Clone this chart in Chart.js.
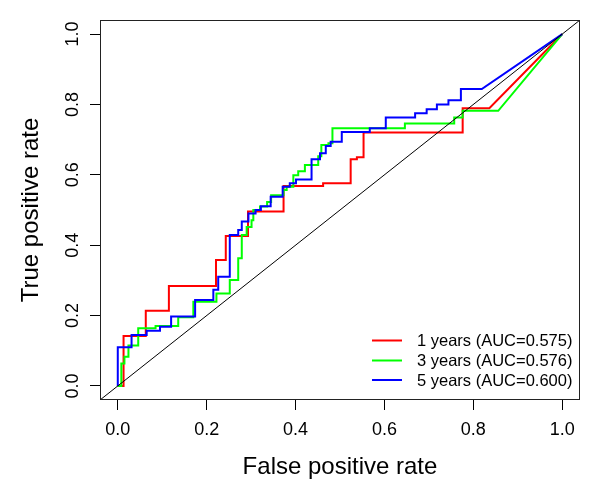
<!DOCTYPE html>
<html>
<head>
<meta charset="utf-8">
<script src="https://cdn.jsdelivr.net/npm/chart.js@4"></script>
<style>
  html, body { margin: 0; padding: 0; background: #fff; }
  canvas { display: block; }
</style>
</head>
<body>
<canvas id="c" width="600" height="500"></canvas>
<script>
// ---- data ----
const seriesLabels = ['1 years (AUC=0.575)', '3 years (AUC=0.576)', '5 years (AUC=0.600)'];
const seriesColors = ['#FF0000', '#00FF00', '#0000FF'];

const fpr1 = [0, 0.013, 0.013, 0.063, 0.063, 0.115, 0.115, 0.221, 0.221, 0.243, 0.243, 0.293, 0.293, 0.373, 0.373, 0.462, 0.462, 0.524, 0.524, 0.538, 0.538, 0.553, 0.553, 0.776, 0.776, 0.836, 1];
const tpr1 = [0, 0, 0.142, 0.142, 0.214, 0.214, 0.284, 0.284, 0.358, 0.358, 0.426, 0.426, 0.496, 0.496, 0.568, 0.568, 0.576, 0.576, 0.644, 0.644, 0.65, 0.65, 0.72, 0.72, 0.789, 0.789, 1];

const fpr3 = [0, 0.008, 0.008, 0.015, 0.015, 0.024, 0.024, 0.046, 0.046, 0.085, 0.085, 0.136, 0.136, 0.17, 0.17, 0.222, 0.222, 0.252, 0.252, 0.271, 0.271, 0.279, 0.279, 0.29, 0.29, 0.301, 0.301, 0.305, 0.305, 0.32, 0.32, 0.336, 0.336, 0.345, 0.345, 0.373, 0.373, 0.38, 0.38, 0.395, 0.395, 0.406, 0.406, 0.421, 0.421, 0.451, 0.451, 0.458, 0.458, 0.474, 0.474, 0.483, 0.483, 0.646, 0.646, 0.757, 0.757, 0.776, 0.776, 0.856, 1];
const tpr3 = [0, 0, 0.064, 0.064, 0.083, 0.083, 0.115, 0.115, 0.164, 0.164, 0.17, 0.17, 0.195, 0.195, 0.239, 0.239, 0.263, 0.263, 0.301, 0.301, 0.363, 0.363, 0.429, 0.429, 0.452, 0.452, 0.471, 0.471, 0.5, 0.5, 0.51, 0.51, 0.523, 0.523, 0.542, 0.542, 0.557, 0.557, 0.566, 0.566, 0.599, 0.599, 0.61, 0.61, 0.628, 0.628, 0.653, 0.653, 0.685, 0.685, 0.69, 0.69, 0.732, 0.732, 0.746, 0.746, 0.763, 0.763, 0.782, 0.782, 1];

const fpr5 = [0, 0, 0.031, 0.031, 0.065, 0.065, 0.095, 0.095, 0.12, 0.12, 0.174, 0.174, 0.215, 0.215, 0.226, 0.226, 0.252, 0.252, 0.271, 0.271, 0.279, 0.279, 0.294, 0.294, 0.31, 0.31, 0.322, 0.322, 0.344, 0.344, 0.371, 0.371, 0.387, 0.387, 0.401, 0.401, 0.436, 0.436, 0.455, 0.455, 0.468, 0.468, 0.479, 0.479, 0.504, 0.504, 0.567, 0.567, 0.603, 0.603, 0.669, 0.669, 0.695, 0.695, 0.718, 0.718, 0.744, 0.744, 0.772, 0.772, 0.819, 1];
const tpr5 = [0, 0.11, 0.11, 0.145, 0.145, 0.157, 0.157, 0.168, 0.168, 0.197, 0.197, 0.244, 0.244, 0.273, 0.273, 0.31, 0.31, 0.429, 0.429, 0.443, 0.443, 0.467, 0.467, 0.49, 0.49, 0.5, 0.5, 0.511, 0.511, 0.538, 0.538, 0.566, 0.566, 0.576, 0.576, 0.587, 0.587, 0.644, 0.644, 0.661, 0.661, 0.682, 0.682, 0.694, 0.694, 0.722, 0.722, 0.732, 0.732, 0.763, 0.763, 0.775, 0.775, 0.786, 0.786, 0.8, 0.8, 0.812, 0.812, 0.844, 0.844, 1];

const diagX = [-0.04, 1.04];
const diagY = [-0.04, 1.04];

const xTickValues = [0, 0.2, 0.4, 0.6, 0.8, 1.0];
const yTickValues = [0, 0.2, 0.4, 0.6, 0.8, 1.0];
const axisMin = -0.04, axisMax = 1.04;
const xTitle = 'False positive rate';
const yTitle = 'True positive rate';

// ---- chart ----
const FONT = '"Liberation Sans", Arial, Helvetica, sans-serif';
const toPts = (xs, ys) => xs.map((x, i) => ({x: x, y: ys[i]}));

const curves = [[fpr1, tpr1], [fpr3, tpr3], [fpr5, tpr5]];
const datasets = curves.map((c, i) => ({
  label: seriesLabels[i],
  data: toPts(c[0], c[1]),
  borderColor: seriesColors[i],
  borderWidth: 2,
  pointRadius: 0,
  showLine: true,
  fill: false,
  tension: 0,
  order: 3 - i
}));
datasets.push({
  label: 'diag',
  data: toPts(diagX, diagY),
  borderColor: '#000',
  borderWidth: 1,
  pointRadius: 0,
  showLine: true,
  fill: false,
  order: 0
});

const boxPlugin = {
  id: 'box',
  afterDraw(chart) {
    const {ctx, chartArea: a} = chart;
    ctx.save();
    ctx.strokeStyle = '#222';
    ctx.lineWidth = 1;
    ctx.strokeRect(a.left + 0.5, a.top + 0.5, a.right - a.left - 1, a.bottom - a.top - 1);
    // legend (no box)
    ctx.font = '16.5px ' + FONT;
    ctx.textBaseline = 'middle';
    ctx.textAlign = 'left';
    const rows = [a.bottom - 59.5, a.bottom - 39.5, a.bottom - 20];
    seriesLabels.forEach((lab, i) => {
      const y = rows[i];
      ctx.strokeStyle = seriesColors[i];
      ctx.lineWidth = 2;
      ctx.beginPath();
      ctx.moveTo(a.right - 208, y);
      ctx.lineTo(a.right - 178, y);
      ctx.stroke();
      ctx.fillStyle = '#000';
      ctx.fillText(lab, a.right - 163, y + 1);
    });
    ctx.restore();
  }
};

new Chart(document.getElementById('c'), {
  type: 'scatter',
  data: { datasets: datasets },
  options: {
    responsive: false,
    devicePixelRatio: 1,
    animation: false,
    layout: { padding: { top: 20, right: 20, left: 0, bottom: 0 } },
    plugins: { legend: { display: false }, tooltip: { enabled: false } },
    scales: {
      x: {
        type: 'linear', position: 'bottom', min: axisMin, max: axisMax,
        afterBuildTicks: s => { s.ticks = xTickValues.map(v => ({value: v})); },
        afterFit: s => { s.height = 100; },
        ticks: { color: '#000', font: { size: 18, family: FONT }, padding: 9, maxRotation: 0, minRotation: 0, autoSkip: false,
                 callback: v => Number(v).toFixed(1) },
        grid: { drawOnChartArea: false, drawTicks: true, tickLength: 10, color: '#000', lineWidth: 1 },
        border: { display: false },
        title: { display: true, text: xTitle, color: '#000', font: { size: 24, family: FONT }, padding: { top: 0, bottom: 18 } }
      },
      y: {
        type: 'linear', position: 'left', min: axisMin, max: axisMax,
        afterBuildTicks: s => { s.ticks = yTickValues.map(v => ({value: v})); },
        afterFit: s => { s.width = 100; },
        ticks: { color: '#000', font: { size: 18, family: FONT }, padding: 4, minRotation: 90, maxRotation: 90, crossAlign: 'center', autoSkip: false,
                 callback: v => Number(v).toFixed(1) },
        grid: { drawOnChartArea: false, drawTicks: true, tickLength: 10, color: '#000', lineWidth: 1 },
        border: { display: false },
        title: { display: true, text: yTitle, color: '#000', font: { size: 24, family: FONT }, padding: { top: 17, bottom: 0 } }
      }
    }
  },
  plugins: [boxPlugin]
});
</script>
</body>
</html>
